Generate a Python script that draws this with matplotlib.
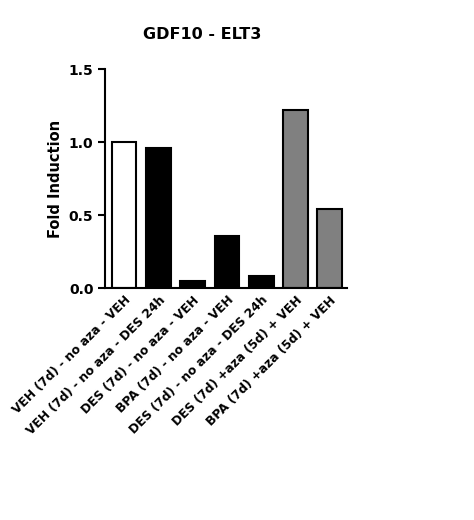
import matplotlib.pyplot as plt

# data
groups = ['VEH (7d) - no aza - VEH', 'VEH (7d) - no aza - DES 24h',
          'DES (7d) - no aza - VEH', 'BPA (7d) - no aza - VEH',
          'DES (7d) - no aza - DES 24h', 'DES (7d) +aza (5d) + VEH',
          'BPA (7d) +aza (5d) + VEH']
fold = [1.00, 0.96, 0.05, 0.36, 0.08, 1.22, 0.54]
colors = ['white', 'black', 'black', 'black', 'black', 'grey', 'grey']

fig = plt.figure(figsize=(4.74, 5.2), dpi=100)
ax = fig.add_axes([0.222, 0.446, 0.51, 0.421])

x = range(len(groups))
ax.bar(x, fold, width=0.72, color=colors, edgecolor='black', linewidth=1.5)

ax.set_ylim(0, 1.5)
ax.set_xlim(-0.55, 6.5)
ax.set_yticks([0.0, 0.5, 1.0, 1.5])
ax.set_yticklabels(['0.0', '0.5', '1.0', '1.5'], fontweight='bold', fontsize=10)
ax.set_xticks(list(x))
ax.set_xticklabels(groups, rotation=45, ha='right', rotation_mode='anchor',
                   fontweight='bold', fontsize=8.8)
ax.set_ylabel('Fold Induction', fontweight='bold', fontsize=10.5)
ax.set_title('GDF10 - ELT3', fontweight='bold', fontsize=11.5, pad=22, x=0.4)

ax.spines['top'].set_visible(False)
ax.spines['right'].set_visible(False)
ax.spines['left'].set_linewidth(1.5)
ax.spines['bottom'].set_linewidth(1.5)
ax.tick_params(axis='x', length=0, pad=4)
ax.tick_params(axis='y', width=1.5, length=5)

fig.savefig('out.png', dpi=100)
